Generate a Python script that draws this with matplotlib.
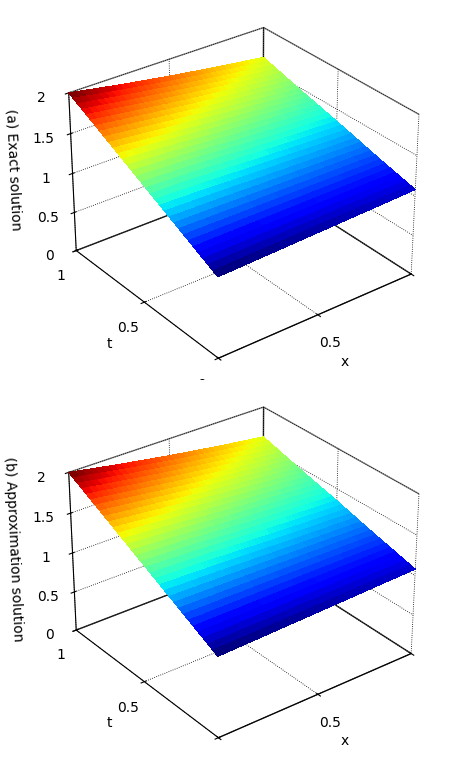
import numpy as np
import matplotlib
matplotlib.use("Agg")
import matplotlib.pyplot as plt

x_vals = [0.0, 0.25, 0.5, 0.75, 1.0]
t_vals = [0.0, 0.25, 0.5, 0.75, 1.0]
# rows: t, cols: x
u_exact = [
    [1.00, 1.02, 1.04, 1.06, 1.08],
    [1.25, 1.24, 1.23, 1.22, 1.21],
    [1.50, 1.47, 1.42, 1.38, 1.35],
    [1.75, 1.68, 1.61, 1.55, 1.48],
    [2.00, 1.89, 1.79, 1.70, 1.62],
]
u_approx = [
    [1.00, 1.02, 1.04, 1.06, 1.08],
    [1.25, 1.24, 1.23, 1.22, 1.21],
    [1.50, 1.47, 1.42, 1.38, 1.35],
    [1.75, 1.68, 1.61, 1.55, 1.48],
    [2.00, 1.89, 1.79, 1.70, 1.62],
]
zlabels = ["(a) Exact solution", "(b) Approximation solution"]


def refine(xs, ts, U, n=8):
    # rendering-only refinement of the typed grid for smooth shading
    xs = np.asarray(xs); ts = np.asarray(ts); U = np.asarray(U)
    xf = np.linspace(xs[0], xs[-1], (len(xs) - 1) * n + 1)
    tf = np.linspace(ts[0], ts[-1], (len(ts) - 1) * n + 1)
    tmp = np.array([np.interp(xf, xs, row) for row in U])
    Uf = np.array([np.interp(tf, ts, col) for col in tmp.T]).T
    Xf, Tf = np.meshgrid(xf, tf)
    return Xf, Tf, Uf


fig = plt.figure(figsize=(4.74, 7.59), dpi=100)
for i, (U, lab) in enumerate(zip([u_exact, u_approx], zlabels)):
    ax = fig.add_axes([-0.08, 0.5 - i*0.5, 1.16, 0.5], projection='3d')
    Xf, Tf, Uf = refine(x_vals, t_vals, U)
    ax.plot_surface(Xf, Tf, Uf, cmap='jet', rstride=1, cstride=1,
                    linewidth=0, antialiased=False, shade=False)
    ax.view_init(elev=30, azim=-127.5)
    ax.set_xlim(0, 1); ax.set_ylim(0, 1); ax.set_zlim(0, 2)
    ax.set_xticks([0, 0.5, 1]); ax.set_xticklabels(["0", "0.5", ""])
    ax.set_yticks([0, 0.5, 1]); ax.set_yticklabels(["0", "0.5", "1"])
    ax.set_zticks([0, 0.5, 1, 1.5, 2])
    ax.set_zticklabels(["0", "0.5", "1", "1.5", "2"])
    ax.set_xlabel("x"); ax.set_ylabel("t"); ax.set_zlabel(lab)
    for a in (ax.xaxis, ax.yaxis, ax.zaxis):
        a.pane.fill = False
        a.pane.set_edgecolor('k')
        a._axinfo['grid'].update(linestyle=':', color='k', linewidth=0.6)
    ax.tick_params(labelsize=10)
fig.savefig("out.png", dpi=100)
